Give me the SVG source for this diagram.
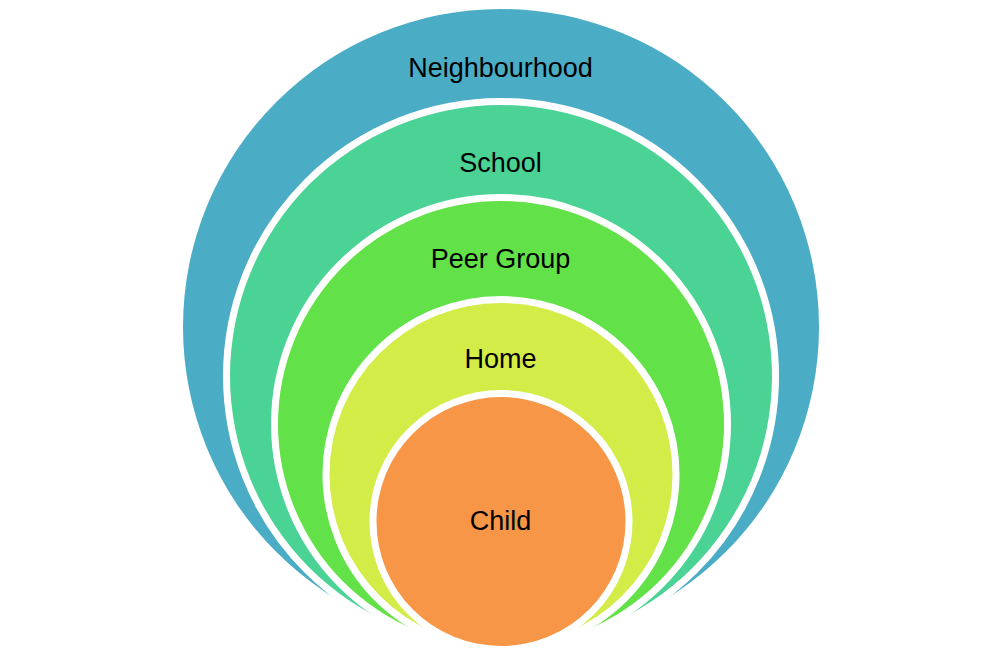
<svg xmlns="http://www.w3.org/2000/svg" width="1001" height="655" viewBox="0 0 1001 655">
  <style>
    .ring { stroke: #FFFFFF; stroke-width: 14; paint-order: stroke; }
    .lbl { font-family: "Liberation Sans", Arial, sans-serif; font-size: 27px; fill: #000000; text-anchor: middle; }
  </style>
  <rect width="1001" height="655" fill="#FFFFFF"/>
  <g id="neighbourhood">
    <circle class="ring" cx="501" cy="327" r="318" fill="#4BACC6"/>
    <text class="lbl" x="500.5" y="77">Neighbourhood</text>
  </g>
  <g id="school">
    <circle class="ring" cx="501" cy="376" r="271" fill="#4AD395"/>
    <text class="lbl" x="500.5" y="172">School</text>
  </g>
  <g id="peer-group">
    <circle class="ring" cx="501" cy="424" r="223" fill="#62E148"/>
    <text class="lbl" x="500.5" y="268">Peer Group</text>
  </g>
  <g id="home">
    <circle class="ring" cx="501" cy="474.5" r="171.5" fill="#D4EC47"/>
    <text class="lbl" x="500.5" y="367.5">Home</text>
  </g>
  <g id="child">
    <circle class="ring" cx="501" cy="521.5" r="124.5" fill="#F79646"/>
    <text class="lbl" x="500.5" y="530">Child</text>
  </g>
  <g id="connectors"></g>
</svg>
